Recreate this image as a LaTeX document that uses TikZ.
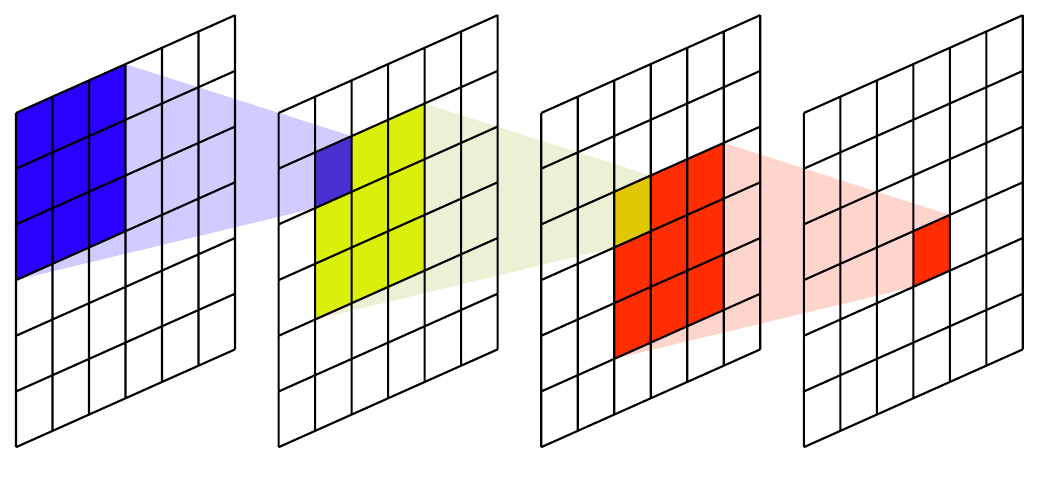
\documentclass[tikz,border=0pt]{standalone}
\definecolor{inblue}{RGB}{43,0,255}
\definecolor{hazeblue}{RGB}{208,204,255}
\definecolor{mixblue}{RGB}{74,47,208}
\definecolor{inyellow}{RGB}{218,240,10}
\definecolor{hazeyellow}{RGB}{237,240,213}
\definecolor{mixyellow}{RGB}{225,200,5}
\definecolor{inred}{RGB}{255,45,0}
\definecolor{hazered}{RGB}{255,212,205}
\begin{document}
\begin{tikzpicture}[layer/.style={cm={0.365,0.163,0,-0.557,(#1,0)}}, mesh/.style={line width=0.6pt, line join=round}]
\useasboundingbox (-0.16,1.13) rectangle (10.34,-3.77);
\path[layer=0] (0,0) coordinate (A1) (3,0) coordinate (A2) (0,3) coordinate (A3);
\path[layer=2.626] (1,1) coordinate (B1) (2,1) coordinate (B2) (2,2) coordinate (B3) (1,2) coordinate (B4) (4,1) coordinate (B5) (1,4) coordinate (B6);
\path[layer=5.252] (2,2) coordinate (C1) (3,2) coordinate (C2) (3,3) coordinate (C3) (2,3) coordinate (C4) (5,2) coordinate (C5) (2,5) coordinate (C6);
\path[layer=7.878] (4,3) coordinate (D1) (4,4) coordinate (D2) (3,4) coordinate (D3);
\fill[hazeblue] (A1) -- (A2) -- (B2) -- (B3) -- (B4) -- (A3) -- cycle;
\fill[hazeyellow] (B1) -- (B5) -- (C2) -- (C3) -- (C4) -- (B6) -- cycle;
\fill[hazered] (C1) -- (C5) -- (D1) -- (D2) -- (D3) -- (C6) -- cycle;
\begin{scope}[layer=0]
\fill[inblue] (0,0) rectangle (3,3);
\draw[mesh] (0,0) grid (6,6);
\end{scope}
\begin{scope}[layer=2.626]
\fill[inyellow] (1,1) rectangle (4,4);
\fill[mixblue] (1,1) rectangle (2,2);
\draw[mesh] (0,0) grid (6,6);
\end{scope}
\begin{scope}[layer=5.252]
\fill[inred] (2,2) rectangle (5,5);
\fill[mixyellow] (2,2) rectangle (3,3);
\draw[mesh] (0,0) grid (6,6);
\end{scope}
\begin{scope}[layer=7.878]
\fill[inred] (3,3) rectangle (4,4);
\draw[mesh] (0,0) grid (6,6);
\end{scope}
\end{tikzpicture}
\end{document}
